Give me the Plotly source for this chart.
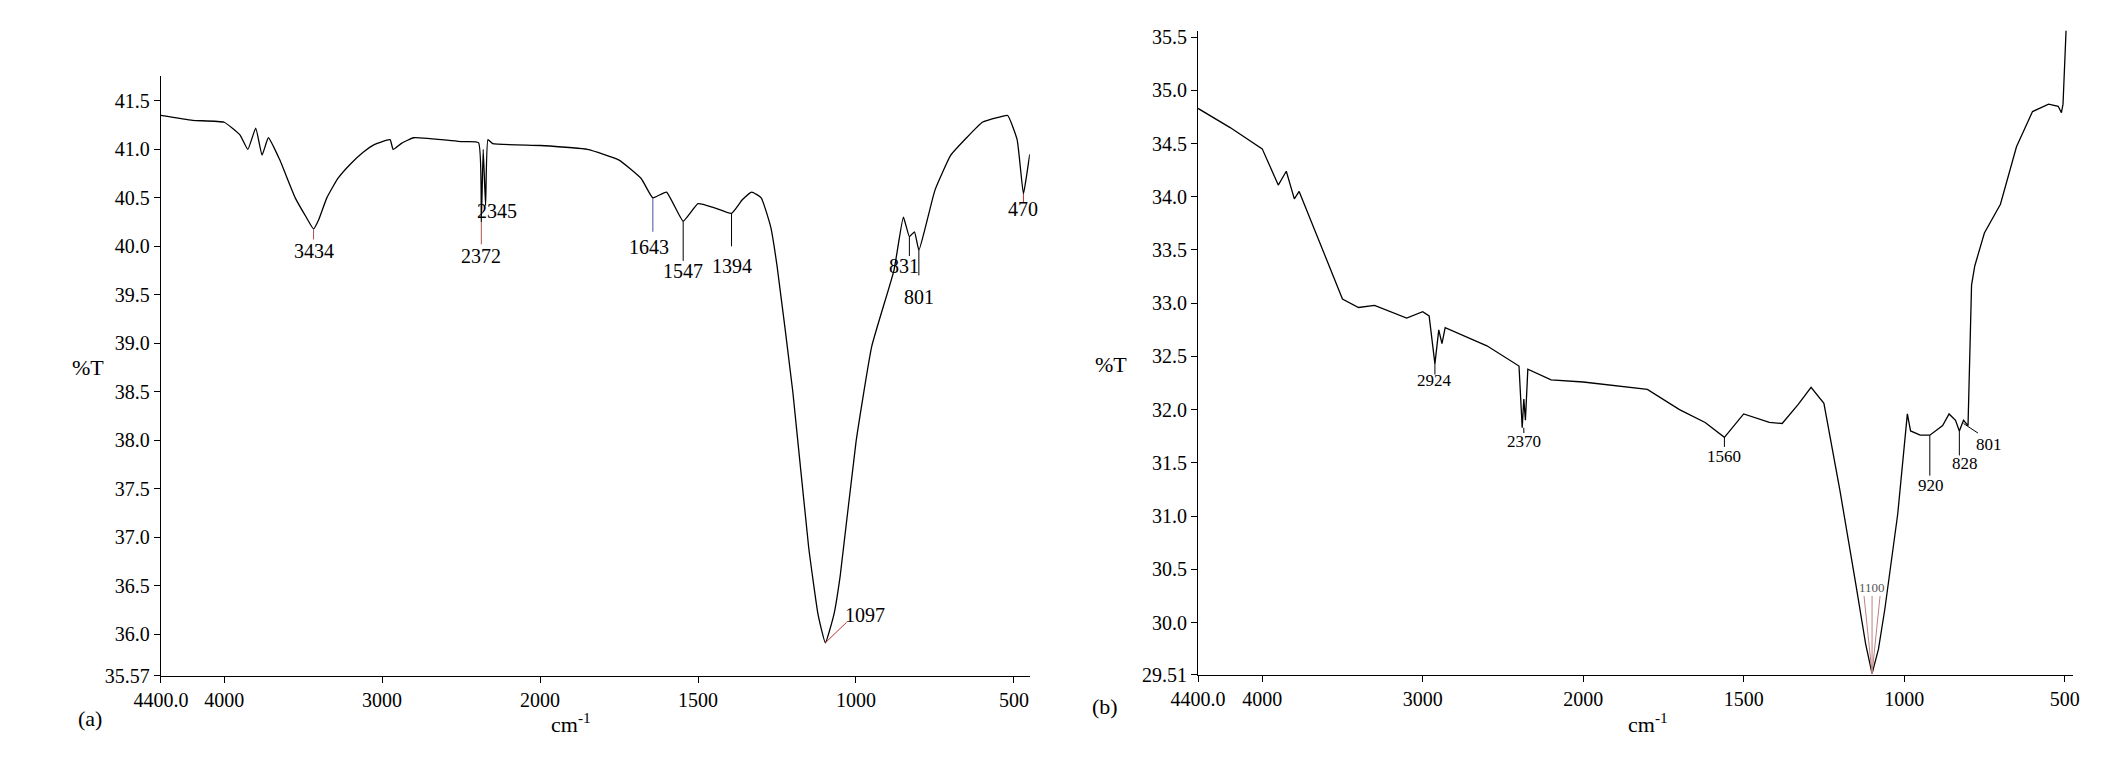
import numpy as np
import plotly.graph_objects as go

# spectrum (a)
wn_a = [4400, 4200, 4000, 3900, 3850, 3800, 3760, 3720, 3650, 3550, 3480, 3434, 3400, 3350, 3280, 3200,
        3120, 3050, 2950, 2930, 2880, 2800, 2500, 2390, 2372, 2360, 2345, 2330, 2300, 2000, 1850, 1750,
        1680, 1643, 1600, 1547, 1500, 1450, 1394, 1360, 1330, 1300, 1270, 1250, 1200, 1150, 1120, 1097,
        1070, 1050, 1000, 950, 880, 850, 831, 815, 801, 780, 750, 700, 650, 600, 550, 520, 490, 470, 460, 450]
t_a = [41.35, 41.3, 41.28, 41.15, 41.0, 41.22, 40.94, 41.12, 40.9, 40.5, 40.3, 40.18, 40.28, 40.5, 40.7, 40.85,
       40.97, 41.05, 41.1, 41.0, 41.06, 41.12, 41.08, 41.07, 40.25, 41.0, 40.42, 41.1, 41.06, 41.04, 41.0, 40.89,
       40.7, 40.5, 40.56, 40.26, 40.44, 40.4, 40.34, 40.48, 40.56, 40.5, 40.2, 39.8, 38.5, 36.9, 36.2, 35.91,
       36.2, 36.6, 37.98, 38.97, 39.75, 40.3, 40.1, 40.15, 39.96, 40.2, 40.58, 40.94, 41.12, 41.28, 41.33, 41.35,
       41.1, 40.54, 40.73, 40.95]

# spectrum (b)
wn_b = [4400, 4200, 4000, 3900, 3850, 3800, 3770, 3650, 3500, 3400, 3300, 3100, 3000, 2960, 2924,
        2900, 2880, 2860, 2600, 2400, 2380, 2370, 2360, 2345, 2200, 2000, 1800, 1700, 1620, 1560,
        1500, 1420, 1380, 1330, 1290, 1250, 1200, 1150, 1120, 1100, 1080, 1060, 1020, 990, 980, 950, 920,
        880, 860, 840, 828, 815, 801, 790, 780, 750, 700, 650, 600, 550, 520, 510, 505, 495]
t_b = [34.83, 34.65, 34.45, 34.11, 34.24, 33.98, 34.05, 33.6, 33.04, 32.96, 32.98, 32.86, 32.92, 32.88, 32.43,
       32.75, 32.62, 32.77, 32.6, 32.41, 31.83, 32.1, 31.9, 32.38, 32.28, 32.26, 32.19, 32.0, 31.88, 31.74,
       31.96, 31.88, 31.87, 32.05, 32.21, 32.06, 31.24, 30.35, 29.8, 29.52, 29.75, 30.13, 31.02, 31.96, 31.8,
       31.76, 31.76, 31.85, 31.96, 31.9, 31.8, 31.9, 31.85, 33.17, 33.35, 33.66, 33.93, 34.47, 34.8, 34.87,
       34.85, 34.79, 34.87, 35.6]

ticks = [4400, 4000, 3000, 2000, 1500, 1000, 500]
tick_text = ["4400.0", "4000", "3000", "2000", "1500", "1000", "500"]
yt_a = [35.57, 36.0, 36.5, 37.0, 37.5, 38.0, 38.5, 39.0, 39.5, 40.0, 40.5, 41.0, 41.5]
yt_b = [29.51, 30.0, 30.5, 31.0, 31.5, 32.0, 32.5, 33.0, 33.5, 34.0, 34.5, 35.0, 35.5]

# peak marks: label, wavenumber, line top, line bottom, label y, label x
pk_a = ["3434", "2372", "2345", "1643", "1547", "1394", "831", "801", "470"]
pk_a_wn = [3434, 2372, 2345, 1643, 1547, 1394, 831, 801, 470]
pk_a_top = [40.18, 40.25, 40.42, 40.5, 40.26, 40.34, 40.1, 39.96, 40.54]
pk_a_bot = [40.07, 40.02, 40.42, 40.15, 39.85, 40.0, 39.9, 39.7, 40.45]
pk_a_ly = [39.95, 39.9, 40.36, 39.99, 39.75, 39.8, 39.8, 39.48, 40.38]
pk_a_lx = [3434, 2372, 2270, 1655, 1547, 1394, 848, 800, 470]
pk_a_col = ["#b05050", "#b05050", "black", "#4050a0", "black", "black", "black", "black", "#c03030"]

pk_b = ["2924", "2370", "1560", "920", "828", "801"]
pk_b_wn = [2924, 2370, 1560, 920, 828, 815]
pk_b_top = [32.43, 31.83, 31.74, 31.76, 31.8, 31.87]
pk_b_bot = [32.33, 31.78, 31.65, 31.38, 31.57, 31.78]
pk_b_ly = [32.27, 31.7, 31.56, 31.29, 31.49, 31.67]
pk_b_lx = [2924, 2370, 1560, 915, 810, 735]


def tx(w):
    # spectrometer scale: doubled spacing below 2000 cm-1
    w = np.asarray(w, dtype=float)
    return np.where(w >= 2000, 4400 - w, 2400 + 2 * (2000 - w))


FONT = "Liberation Serif"
fig = go.Figure()

fig.add_trace(go.Scatter(x=tx(wn_a), y=t_a, mode="lines", line=dict(color="black", width=1.3, shape="spline", smoothing=0.4),
                         xaxis="x", yaxis="y", showlegend=False))
fig.add_trace(go.Scatter(x=tx(wn_b), y=t_b, mode="lines", line=dict(color="black", width=1.3),
                         xaxis="x2", yaxis="y2", showlegend=False))

for i in range(len(pk_a)):
    fig.add_trace(go.Scatter(x=tx([pk_a_wn[i], pk_a_wn[i]]), y=[pk_a_top[i], pk_a_bot[i]], mode="lines",
                             line=dict(color=pk_a_col[i], width=1), xaxis="x", yaxis="y", showlegend=False))
    fig.add_annotation(x=float(tx(pk_a_lx[i])), y=pk_a_ly[i], xref="x", yref="y", text=pk_a[i],
                       showarrow=False, font=dict(family=FONT, size=20, color="black"))
# 1097 leader
fig.add_trace(go.Scatter(x=tx([1097, 1030]), y=[35.91, 36.12], mode="lines",
                         line=dict(color="#c03030", width=1), xaxis="x", yaxis="y", showlegend=False))
fig.add_annotation(x=float(tx(1040)), y=36.2, xref="x", yref="y", text="1097", showarrow=False,
                   xanchor="left", font=dict(family=FONT, size=20, color="black"))

for i in range(len(pk_b)):
    fig.add_trace(go.Scatter(x=tx([pk_b_wn[i], pk_b_wn[i] if i < 5 else 770]), y=[pk_b_top[i], pk_b_bot[i]],
                             mode="lines", line=dict(color="black", width=1), xaxis="x2", yaxis="y2",
                             showlegend=False))
    fig.add_annotation(x=float(tx(pk_b_lx[i])), y=pk_b_ly[i], xref="x2", yref="y2", text=pk_b[i],
                       showarrow=False, font=dict(family=FONT, size=17, color="black"))
# 1100 leader
fig.add_trace(go.Scatter(x=tx([1125, 1100, 1075]), y=[30.25, 29.52, 30.25], mode="lines",
                         line=dict(color="#c08080", width=1), xaxis="x2", yaxis="y2", showlegend=False))
fig.add_trace(go.Scatter(x=tx([1100, 1100]), y=[29.52, 30.25], mode="lines",
                         line=dict(color="#c08080", width=1), xaxis="x2", yaxis="y2", showlegend=False))
fig.add_annotation(x=float(tx(1100)), y=30.33, xref="x2", yref="y2", text="1100", showarrow=False,
                   font=dict(family=FONT, size=13, color="#555555"))

axis_common = dict(showline=True, linecolor="black", linewidth=1.2, ticks="outside", ticklen=6,
                   tickcolor="black", showgrid=False, zeroline=False,
                   tickfont=dict(family=FONT, size=20, color="black"))

fig.update_layout(
    width=2109, height=763, margin=dict(l=0, r=0, t=0, b=0),
    plot_bgcolor="white", paper_bgcolor="white",
    xaxis=dict(domain=[0.0607, 0.4794], anchor="y", range=[0, float(tx(450))],
               tickvals=tx(ticks), ticktext=tick_text, **axis_common),
    yaxis=dict(domain=[0.1127, 0.9148], anchor="x", range=[35.57, 41.76], tickvals=yt_a,
               ticktext=[f"{v:.2f}" if v == 35.57 else f"{v:.1f}" for v in yt_a], **axis_common),
    xaxis2=dict(domain=[0.5605, 0.9820], anchor="y2", range=[0, float(tx(475))],
                tickvals=tx(ticks), ticktext=tick_text, **axis_common),
    yaxis2=dict(domain=[0.114, 0.975], anchor="x2", range=[29.51, 35.56], tickvals=yt_b,
                ticktext=[f"{v:.2f}" if v == 29.51 else f"{v:.1f}" for v in yt_b], **axis_common),
)

labels = [("%T", 36, 363), ("%T", 1094, 360), ("(a)", 42, 735), ("(b)", 1088, 723),
          ("cm<sup>-1</sup>", 522, 742), ("cm<sup>-1</sup>", 1662, 742)]
for txt, px, py in labels:
    fig.add_annotation(x=px / 2109, y=1 - py / 763, xref="paper", yref="paper", text=txt,
                       showarrow=False, font=dict(family=FONT, size=22, color="black"))

fig.write_html("out.html")
